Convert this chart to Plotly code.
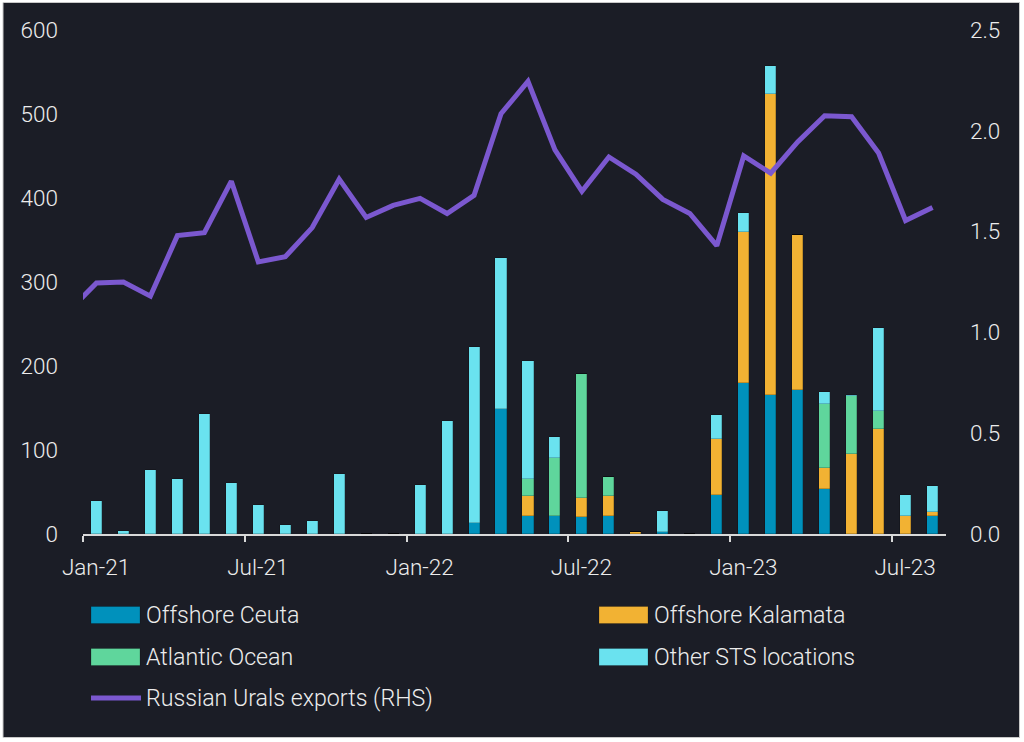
import plotly.graph_objects as go

# ---------------- data ----------------
months = ["Jan-21", "Feb-21", "Mar-21", "Apr-21", "May-21", "Jun-21", "Jul-21", "Aug-21",
          "Sep-21", "Oct-21", "Nov-21", "Dec-21", "Jan-22", "Feb-22", "Mar-22", "Apr-22",
          "May-22", "Jun-22", "Jul-22", "Aug-22", "Sep-22", "Oct-22", "Nov-22", "Dec-22",
          "Jan-23", "Feb-23", "Mar-23", "Apr-23", "May-23", "Jun-23", "Jul-23", "Aug-23"]

offshore_ceuta = [0, 0, 0, 0, 0, 0, 0, 0, 0, 0, 0, 0, 0, 0, 13, 149,
                  21, 21, 20, 22, 0, 2, 0, 46, 180, 165, 172, 54, 0, 0, 0, 21]
offshore_kalamata = [0, 0, 0, 0, 0, 0, 0, 0, 0, 0, 0, 0, 0, 0, 0, 0,
                     24, 0, 23, 23, 2, 0, 0, 67, 180, 359, 184, 24, 95, 125, 22, 5]
atlantic_ocean = [0, 0, 0, 0, 0, 0, 0, 0, 0, 0, 0, 0, 0, 0, 0, 0,
                  21, 70, 148, 23, 0, 0, 0, 0, 0, 0, 0, 77, 69, 22, 0, 0]
other_sts = [39, 4, 76, 66, 143, 61, 35, 11, 16, 72, 0, 0, 58, 135, 210, 179,
             140, 24, 0, 0, 0, 25, 0, 29, 22, 33, 0, 14, 2, 98, 24, 31]

# Russian Urals exports (RHS), starting Dec-20 (partly clipped at the left edge)
urals_months = ["Dec-20"] + months
urals_exports = [1.11, 1.245, 1.25, 1.18, 1.48, 1.495, 1.75, 1.35, 1.375, 1.52, 1.76, 1.57,
                 1.63, 1.665, 1.59, 1.68, 2.085, 2.245, 1.905, 1.70, 1.87, 1.785, 1.66, 1.59,
                 1.43, 1.875, 1.79, 1.945, 2.075, 2.07, 1.89, 1.555, 1.62]

tick_labels = ["Jan-21", "Jul-21", "Jan-22", "Jul-22", "Jan-23", "Jul-23"]

# ---------------- styling ----------------
BG = "#1b1d26"
TXT = "#ececec"
C_CEUTA = "#0091bc"
C_KAL = "#f2b233"
C_ATL = "#5fd69c"
C_OTHER = "#6ae2ef"
C_LINE = "#7b58cf"
FONT = "Roboto"
FS = 22.5
FW = 300

W, H = 1024, 742
L, R, T, B = 83, 946, 30, 534  # plot area in pixels
N = len(months)
step_px = (R - L) / N

x_idx = list(range(N))
x_line = [-1] + x_idx
tick_pos = [months.index(m) - 0.5 for m in tick_labels]


def px(x):
    return (x - L) / (R - L)


def py(y):
    return (B - y) / (B - T)


tfont = dict(family=FONT, size=FS, color=TXT, weight=FW)
lfont = dict(family=FONT, size=23.2, color=TXT, weight=FW)

fig = go.Figure()
bar_line = dict(width=0.8, color="rgba(0,0,0,0.25)")
for name, vals, col in [("Offshore Ceuta", offshore_ceuta, C_CEUTA),
                        ("Offshore Kalamata", offshore_kalamata, C_KAL),
                        ("Atlantic Ocean", atlantic_ocean, C_ATL),
                        ("Other STS locations", other_sts, C_OTHER)]:
    fig.add_trace(go.Bar(x=x_idx, y=vals, name=name, marker=dict(color=col, line=bar_line),
                         width=0.41, showlegend=False))

fig.add_trace(go.Scatter(x=x_line, y=urals_exports, name="Russian Urals exports (RHS)",
                         mode="lines", line=dict(color=C_LINE, width=5), yaxis="y2",
                         showlegend=False))

# custom legend
shapes = [dict(type="rect", xref="paper", yref="paper", x0=px(3), x1=px(1019.5), y0=py(737.5), y1=py(2.5),
               fillcolor=BG, line=dict(color="#c8c8c8", width=1), layer="below")]
annotations = []
legend_items = [("Offshore Ceuta", C_CEUTA, 91, 615, "bar"),
                ("Offshore Kalamata", C_KAL, 599, 615, "bar"),
                ("Atlantic Ocean", C_ATL, 91, 657, "bar"),
                ("Other STS locations", C_OTHER, 599, 657, "bar"),
                ("Russian Urals exports (RHS)", C_LINE, 91, 698, "line")]
for text, col, x0, yc, kind in legend_items:
    if kind == "bar":
        shapes.append(dict(type="rect", xref="paper", yref="paper", x0=px(x0), x1=px(x0 + 49),
                           y0=py(yc + 8.5), y1=py(yc - 8.5), fillcolor=col,
                           line=dict(color="rgba(0,0,0,0.25)", width=0.8)))
    else:
        shapes.append(dict(type="line", xref="paper", yref="paper", x0=px(x0), x1=px(x0 + 50),
                           y0=py(yc), y1=py(yc), line=dict(color=col, width=5)))
    annotations.append(dict(text=text, xref="paper", yref="paper", x=px(x0 + 53), y=py(yc),
                            xanchor="left", yanchor="middle", showarrow=False, font=lfont))

fig.update_layout(
    width=W, height=H,
    margin=dict(l=L, r=W - R, t=T, b=H - B, pad=0),
    paper_bgcolor="white", plot_bgcolor=BG,
    barmode="stack", bargap=0,
    font=dict(family=FONT, size=FS, color=TXT),
    showlegend=False,
    xaxis=dict(range=[-0.5, N - 0.5], tickmode="array", tickvals=tick_pos,
               ticktext=tick_labels, showgrid=False, zeroline=False, showline=True,
               linecolor="#d9d9d9", linewidth=1.5, ticks="outside", ticklen=6,
               tickwidth=1.5, tickcolor="#d9d9d9", tickfont=tfont,
               ticklabelshift=int(round(step_px / 2)), ticklabelstandoff=6),
    yaxis=dict(range=[0, 600], dtick=100, showgrid=False, zeroline=False, showline=False,
               ticks="", ticklabelstandoff=24, tickfont=tfont),
    yaxis2=dict(range=[0, 2.5], dtick=0.5, tickformat=".1f", overlaying="y", side="right",
                showgrid=False, zeroline=False, showline=False, ticks="",
                ticklabelstandoff=23, tickfont=tfont),
    shapes=shapes, annotations=annotations,
)

fig.write_html("out.html")
